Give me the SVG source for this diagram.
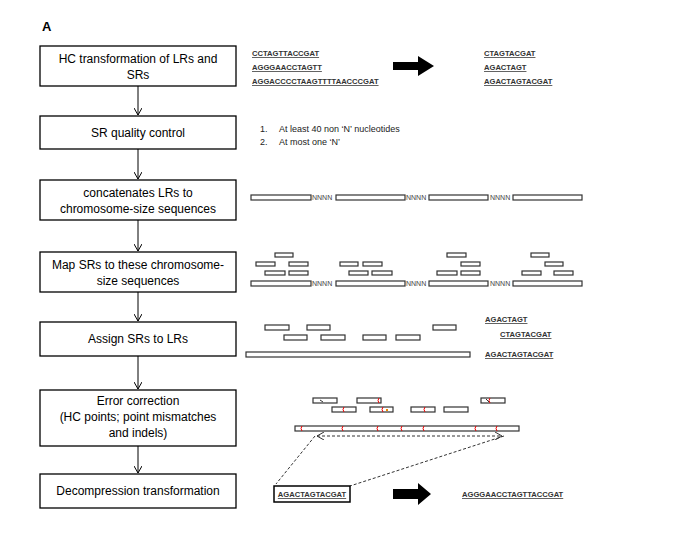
<svg xmlns="http://www.w3.org/2000/svg" width="681" height="542" viewBox="0 0 681 542">
<defs>
<style>
.b{fill:#fff;stroke:#000;stroke-width:1.3}
.t{font-family:"Liberation Sans",Arial,sans-serif;font-size:12px;text-anchor:middle}
.s{font-family:"Liberation Sans",Arial,sans-serif;font-size:7.6px;font-weight:bold;fill:#333;text-decoration:underline}
.n{font-family:"Liberation Sans",Arial,sans-serif;font-size:7px;fill:#444}
.r{fill:#fff;stroke:#333;stroke-width:1.2}
.c{fill:none;stroke:#e00;stroke-width:1}
.a{stroke:#000;stroke-width:1;fill:none;marker-end:url(#m)}
.d{stroke:#333;stroke-width:1;stroke-dasharray:3 2;fill:none}
</style>
<marker id="m" markerWidth="8" markerHeight="8" refX="7" refY="4" orient="auto" markerUnits="userSpaceOnUse"><path d="M0,0 L7,4 L0,8" fill="none" stroke="#000"/></marker>
<marker id="o" markerWidth="8" markerHeight="8" refX="7" refY="4" orient="auto-start-reverse" markerUnits="userSpaceOnUse"><path d="M0,0 L7,4 L0,8" fill="none" stroke="#333"/></marker>
</defs>
<rect width="681" height="542" fill="#fff"/>
<text x="42" y="31" font-family="Liberation Sans,Arial,sans-serif" font-size="13" font-weight="bold">A</text>
<g id="n1"><rect class="b" x="40" y="46" width="196" height="40"/><text class="t" x="138" y="63">HC transformation of LRs and</text><text class="t" x="138" y="79">SRs</text></g>
<g id="n2"><rect class="b" x="40" y="116" width="196" height="33"/><text class="t" x="138" y="137">SR quality control</text></g>
<g id="n3"><rect class="b" x="40" y="180" width="196" height="40"/><text class="t" x="138" y="197">concatenates LRs to</text><text class="t" x="138" y="213">chromosome-size sequences</text></g>
<g id="n4"><rect class="b" x="40" y="252" width="196" height="40"/><text class="t" x="138" y="269">Map SRs to these chromosome-</text><text class="t" x="138" y="285">size sequences</text></g>
<g id="n5"><rect class="b" x="40" y="322" width="196" height="34"/><text class="t" x="138" y="343">Assign SRs to LRs</text></g>
<g id="n6"><rect class="b" x="40" y="390" width="196" height="56"/><text class="t" x="138" y="405">Error correction</text><text class="t" x="138" y="421">(HC points; point mismatches</text><text class="t" x="138" y="437">and indels)</text></g>
<g id="n7"><rect class="b" x="40" y="474" width="196" height="34"/><text class="t" x="138" y="495">Decompression transformation</text></g>
<g id="connectors">
<path class="a" d="M138,86 V115"/><path class="a" d="M138,149 V179"/><path class="a" d="M138,220 V251"/><path class="a" d="M138,292 V321"/><path class="a" d="M138,356 V389"/><path class="a" d="M138,446 V473"/>
</g>
<g id="r1">
<text class="s" x="252" y="56">CCTAGTTACCGAT</text><text class="s" x="252" y="70">AGGGAACCTAGTT</text><text class="s" x="252" y="84">AGGACCCCTAAGTTTTAACCCGAT</text>
<path d="M393,62 H418 V56 L434,66 L418,76 V70 H393Z" fill="#000"/>
<text class="s" x="484" y="56">CTAGTACGAT</text><text class="s" x="484" y="70">AGACTAGT</text><text class="s" x="484" y="84">AGACTAGTACGAT</text>
</g>
<g id="r2" font-family="Liberation Sans,Arial,sans-serif" font-size="9" fill="#222">
<text x="260" y="132">1.</text><text x="279" y="132">At least 40 non ‘N’ nucleotides</text><text x="260" y="145">2.</text><text x="279" y="145">At most one ‘N’</text>
</g>
<g id="r3">
<rect class="r" x="251" y="195" width="60" height="5"/><text class="n" x="312" y="200">NNNN</text>
<rect class="r" x="336" y="195" width="69" height="5"/><text class="n" x="406" y="200">NNNN</text>
<rect class="r" x="429" y="195" width="59" height="5"/><text class="n" x="490" y="200">NNNN</text>
<rect class="r" x="513" y="195" width="69" height="5"/>
</g>
<g id="r4">
<rect class="r" x="275" y="253" width="18" height="4"/><rect class="r" x="447" y="253" width="19" height="4"/><rect class="r" x="531" y="253" width="18" height="4"/>
<rect class="r" x="256" y="262" width="19" height="4"/><rect class="r" x="289" y="262" width="19" height="4"/><rect class="r" x="340" y="262" width="18" height="4"/><rect class="r" x="363" y="262" width="19" height="4"/><rect class="r" x="461" y="262" width="19" height="4"/><rect class="r" x="545" y="262" width="18" height="4"/>
<rect class="r" x="265" y="271" width="20" height="4"/><rect class="r" x="289" y="271" width="19" height="4"/><rect class="r" x="349" y="271" width="19" height="4"/><rect class="r" x="372" y="271" width="20" height="4"/><rect class="r" x="437" y="271" width="20" height="4"/><rect class="r" x="461" y="271" width="19" height="4"/><rect class="r" x="522" y="271" width="19" height="4"/><rect class="r" x="554" y="271" width="19" height="4"/>
<rect class="r" x="251" y="281" width="60" height="5"/><text class="n" x="312" y="286">NNNN</text>
<rect class="r" x="336" y="281" width="69" height="5"/><text class="n" x="406" y="286">NNNN</text>
<rect class="r" x="429" y="281" width="59" height="5"/><text class="n" x="490" y="286">NNNN</text>
<rect class="r" x="513" y="281" width="69" height="5"/>
</g>
<g id="r5">
<rect class="r" x="265" y="325" width="24" height="5"/><rect class="r" x="307" y="325" width="23" height="5"/><rect class="r" x="433" y="325" width="23" height="5"/>
<rect class="r" x="284" y="335" width="23" height="5"/><rect class="r" x="321" y="335" width="24" height="5"/><rect class="r" x="363" y="335" width="23" height="5"/><rect class="r" x="396" y="335" width="24" height="5"/>
<rect class="r" x="246" y="352" width="224" height="5"/>
<text class="s" x="485" y="322">AGACTAGT</text><text class="s" x="500" y="337">CTAGTACGAT</text><text class="s" x="485" y="357">AGACTAGTACGAT</text>
</g>
<g id="r6">
<rect class="r" x="313" y="398" width="24" height="5"/><rect class="r" x="357" y="398" width="24" height="5"/><rect class="r" x="481" y="398" width="24" height="5"/>
<rect class="r" x="332" y="407" width="24" height="5"/><rect class="r" x="370" y="407" width="23" height="5"/><rect class="r" x="411" y="407" width="24" height="5"/><rect class="r" x="444" y="407" width="24" height="5"/>
<rect class="r" x="295" y="426" width="224" height="5"/>
<path class="c" d="M379,398 q-2,2.5 0,5 M490,398 q-2,2.5 0,5 M344,407 q-2,2.5 0,5 M383,407 q-2,2.5 0,5 M425,407 q-2,2.5 0,5 M302,426 q-2,2.5 0,5 M343,426 q-2,2.5 0,5 M378,426 q-2,2.5 0,5 M402,426 q-2,2.5 0,5 M424,426 q-2,2.5 0,5 M476,426 q-2,2.5 0,5 M497,426 q-2,2.5 0,5"/>
<path d="M320,400 l3,2 M486,399 l3,3" stroke="#333"/>
<rect x="386" y="409" width="2" height="2" fill="#e80"/>
<path class="d" d="M317,436 H502" marker-start="url(#o)" marker-end="url(#o)"/>
<path class="d" d="M315,436 L276,484 M504,436 L350,486"/>
</g>
<g id="r7">
<rect x="274" y="486" width="76" height="16" fill="#fff" stroke="#000" stroke-width="1.5"/>
<text class="s" x="312" y="497" text-anchor="middle">AGACTAGTACGAT</text>
<path d="M393,489 H418 V483 L431,494 L418,505 V499 H393Z" fill="#000"/>
<text class="s" x="462" y="497">AGGGAACCTAGTTACCGAT</text>
</g>
</svg>
